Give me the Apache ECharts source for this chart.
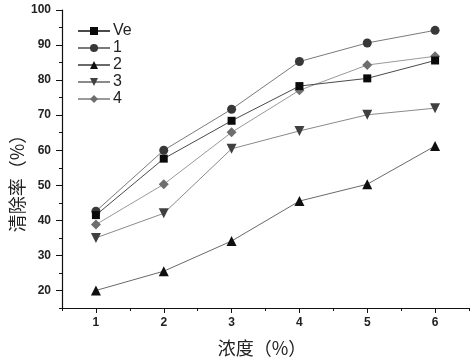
<!DOCTYPE html>
<html><head><meta charset="utf-8">
<script src="https://cdn.jsdelivr.net/npm/echarts@6/dist/echarts.min.js"></script>
<style>html,body{margin:0;padding:0;background:#fff}#c{width:474px;height:361px}</style>
</head><body><div id="c"></div>
<script>
const concentration = [1, 2, 3, 4, 5, 6];
const seriesNames = ['Ve', '1', '2', '3', '4'];
const ve = [41.5, 57.6, 68.4, 78.3, 80.5, 85.6];
const s1 = [42.6, 60.0, 71.7, 85.3, 90.6, 94.2];
const s2 = [20.0, 25.5, 34.1, 45.5, 50.3, 61.2];
const s3 = [35.0, 42.0, 60.4, 65.5, 70.1, 72.0];
const s4 = [38.8, 50.3, 65.1, 77.1, 84.3, 86.8];
const xTicks = [1, 2, 3, 4, 5, 6];
const yTicks = [20, 30, 40, 50, 60, 70, 80, 90, 100];

const values = [ve, s1, s2, s3, s4];
const symbols = ['rect', 'circle', 'triangle', 'triangle', 'diamond'];
const rotates = [0, 0, 0, 180, 0];
const sizes = [8, 9, 10, 10, 10];
const markerColors = ['#0a0a0a', '#383838', '#0f0f0f', '#404040', '#6e6e6e'];
const lineColors = ['#4a4a4a', '#7a7a7a', '#6a6a6a', '#8a8a8a', '#9a9a9a'];

const L = 62, R = 5, T = 10, B = 53;
const W = 474 - L - R, H = 361 - T - B;
const xMin = 0.5, xMax = 6.5, yMin = 15, yMax = 100;
const px = v => L + (v - xMin) / (xMax - xMin) * W;
const py = v => T + (yMax - v) / (yMax - yMin) * H;
const g1Left = px(xTicks[0]), g1Right = 474 - px(xTicks[xTicks.length - 1]);
const g1Bottom = 361 - py(yTicks[0]);

const labelFont = {fontFamily: 'Liberation Sans, Arial', fontWeight: 'bold', fontSize: 12, color: '#222'};

const chart = echarts.init(document.getElementById('c'));
chart.setOption({
  animation: false,
  backgroundColor: '#fff',
  grid: [
    {left: L, right: R, top: T, bottom: B},
    {left: g1Left, right: g1Right, top: T, bottom: g1Bottom}
  ],
  xAxis: [
    {type: 'value', gridIndex: 0, min: xMin, max: xMax, interval: 0.5,
     axisLine: {show: true, lineStyle: {color: '#111', width: 1.2}},
     axisTick: {show: true, length: 3, lineStyle: {color: '#111'}},
     axisLabel: {show: false}, splitLine: {show: false}},
    {type: 'value', gridIndex: 1, min: xTicks[0], max: xTicks[xTicks.length - 1], interval: 1,
     offset: 361 - B - (361 - g1Bottom),
     axisLine: {show: false},
     axisTick: {show: true, length: 5, lineStyle: {color: '#111'}},
     axisLabel: Object.assign({show: true, margin: 9}, labelFont),
     splitLine: {show: false}}
  ],
  yAxis: [
    {type: 'value', gridIndex: 0, min: yMin, max: yMax, interval: 5,
     axisLine: {show: true, lineStyle: {color: '#111', width: 1.2}},
     axisTick: {show: true, length: 3, lineStyle: {color: '#111'}},
     axisLabel: {show: false}, splitLine: {show: false}},
    {type: 'value', gridIndex: 1, min: yTicks[0], max: yTicks[yTicks.length - 1], interval: 10,
     offset: g1Left - L,
     axisLine: {show: false},
     axisTick: {show: true, length: 6, lineStyle: {color: '#111'}},
     axisLabel: Object.assign({show: true, margin: 11}, labelFont),
     splitLine: {show: false}}
  ],
  legend: {
    orient: 'vertical', left: 77, top: 23, padding: 0,
    itemWidth: 32, itemHeight: 10, itemGap: 1,
    textStyle: {fontFamily: 'Liberation Sans, Arial', fontSize: 16, color: '#222', padding: [0, 0, 0, -2]},
    data: seriesNames
  },
  graphic: [
    {type: 'text', x: 17, y: 179, rotation: Math.PI / 2,
     style: {text: '清除率（%）', font: '18px "Noto Sans CJK SC"', fill: '#222', align: 'center', verticalAlign: 'middle'}},
    {type: 'text', x: 262, y: 348,
     style: {text: '浓度（%）', font: '18px "Noto Sans CJK SC"', fill: '#222', align: 'center', verticalAlign: 'middle'}}
  ],
  series: seriesNames.map((n, i) => ({
    name: n, type: 'line', xAxisIndex: 0, yAxisIndex: 0,
    data: concentration.map((c, j) => [c, values[i][j]]),
    symbol: symbols[i], symbolSize: sizes[i], symbolRotate: rotates[i],
    itemStyle: {color: markerColors[i]},
    lineStyle: {color: lineColors[i], width: 1},
    z: 10 - i
  }))
});
</script></body></html>
